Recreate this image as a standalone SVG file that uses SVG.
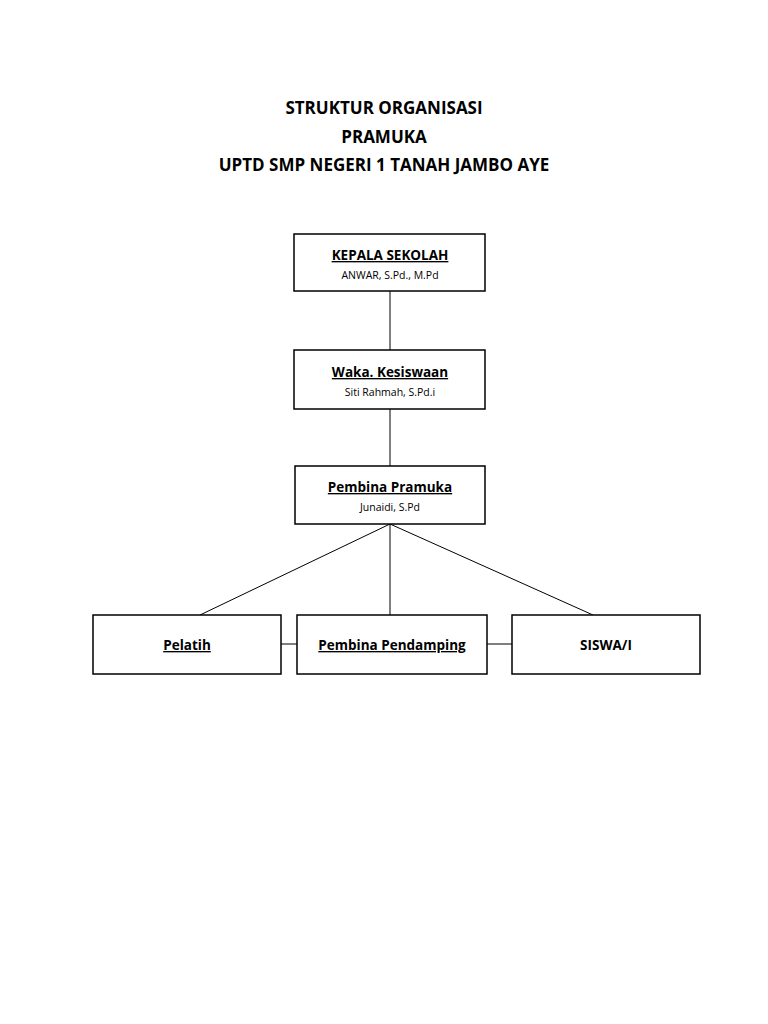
<svg xmlns="http://www.w3.org/2000/svg" width="768" height="1024" viewBox="0 0 768 1024">
<style>
text{font-family:"Open Sans","Liberation Sans",sans-serif;fill:#000;text-anchor:middle}
.t{font-size:17px;font-weight:bold}
.h{font-size:13.5px;font-weight:bold;text-decoration:underline}
.hb{font-size:13.5px;font-weight:bold}
.s{font-size:10.5px}
rect{fill:#fff;stroke:#000;stroke-width:1.5}
line{stroke:#000;stroke-width:1}
</style>
<rect x="0" y="0" width="768" height="1024" style="stroke:none"/>
<g id="title">
<text class="t" x="384" y="114">STRUKTUR ORGANISASI</text>
<text class="t" x="384" y="143">PRAMUKA</text>
<text class="t" x="384" y="171">UPTD SMP NEGERI 1 TANAH JAMBO AYE</text>
</g>
<g id="connectors">
<line x1="390" y1="291" x2="390" y2="350"/>
<line x1="390" y1="409" x2="390" y2="466"/>
<line x1="390" y1="524" x2="200" y2="615"/>
<line x1="390" y1="524" x2="390" y2="615"/>
<line x1="390" y1="524" x2="593" y2="615"/>
<line x1="281" y1="644" x2="297" y2="644"/>
<line x1="487" y1="644" x2="512" y2="644"/>
</g>
<g id="kepala"><rect x="294" y="234" width="191" height="57"/>
<text class="h" x="390" y="260">KEPALA SEKOLAH</text><text class="s" x="390" y="279">ANWAR, S.Pd., M.Pd</text></g>
<g id="waka"><rect x="294" y="350" width="191" height="59"/>
<text class="h" x="390" y="377">Waka. Kesiswaan</text><text class="s" x="390" y="396">Siti Rahmah, S.Pd.i</text></g>
<g id="pembina"><rect x="295" y="466" width="190" height="58"/>
<text class="h" x="390" y="492">Pembina Pramuka</text><text class="s" x="390" y="511">Junaidi, S.Pd</text></g>
<g id="pelatih"><rect x="93" y="615" width="188" height="59"/>
<text class="h" x="187" y="650">Pelatih</text></g>
<g id="pendamping"><rect x="297" y="615" width="190" height="59"/>
<text class="h" x="392" y="650">Pembina Pendamping</text></g>
<g id="siswa"><rect x="512" y="615" width="188" height="59"/>
<text class="hb" x="606" y="650">SISWA/I</text></g>
</svg>
